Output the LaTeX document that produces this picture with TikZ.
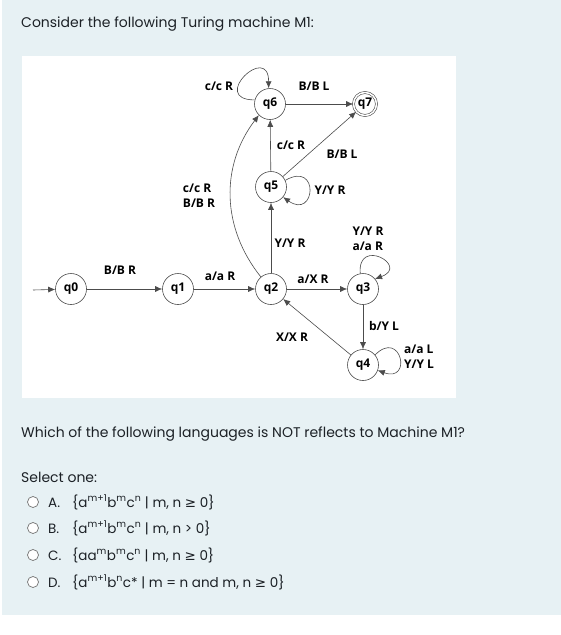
\documentclass[tikz,border=0pt]{standalone}
\usepackage{fontspec}
\setmainfont{Poppins}
\newfontfamily\diagfont{Open Sans}
\newfontfamily\symfont{DejaVu Sans}
\usepackage{xcolor}
\definecolor{panelBody}{rgb}{0.906,0.945,0.957}
\definecolor{panelText}{rgb}{0.11,0.13,0.15}
\definecolor{tmLine}{rgb}{0.3,0.3,0.3}
\definecolor{radioBorder}{rgb}{0.45,0.45,0.45}
\usetikzlibrary{arrows.meta}
\usetikzlibrary{positioning}
\tikzstyle{tmstate} = [circle, draw=tmLine, line width=0.6pt, minimum size=31pt, inner sep=0pt,
        font={\diagfont\bfseries\fontsize{12}{13}\selectfont}]
\tikzstyle{tmfinal} = [tmstate, minimum size=23pt, double, double distance=1.5pt]
\tikzstyle{tmlabel} = [font={\diagfont\bfseries\fontsize{12}{15}\selectfont}, align=left, inner sep=0pt]
\tikzstyle{tmedge} = [draw=tmLine, line width=0.6pt, -{Latex[length=7pt,width=6pt]}]
\tikzstyle{prose} = [anchor=base west, inner sep=0pt, text=panelText, font={\fontsize{14}{17}\selectfont}]
\tikzstyle{choice} = [prose, font={\fontsize{13.5}{16}\selectfont}]
\tikzstyle{radio} = [circle, draw=radioBorder, fill=white, line width=0.7pt, minimum size=11pt, inner sep=0pt]

\begin{document}
\begin{tikzpicture}[x=1pt, y=-1pt]
            \useasboundingbox (0,0) rectangle (561,635);
            \fill[panelBody] (2,0) rectangle (561,615);
            \fill[white] (22,56) rectangle (456,398);

            \node [prose] (intro) at (21,27) {Consider the following Turing machine M1:};

            \coordinate (start) at (33,290);
            \node [tmstate] (q0) at (71,289) {q0};
            \node [tmstate] (q1) at (178,289) {q1};
            \node [tmstate] (q2) at (271,289) {q2};
            \node [tmstate] (q3) at (363,289) {q3};
            \node [tmstate] (q4) at (363,365) {q4};
            \node [tmstate] (q5) at (271,187) {q5};
            \node [tmstate] (q6) at (270,104) {q6};
            \node [tmfinal] (q7) at (365,104) {q7};

            \draw [tmedge] (start) -- (q0);
            \draw [tmedge] (q0) -- (q1);
            \draw [tmedge] (q1) -- (q2);
            \draw [tmedge] (q2) -- (q3);
            \draw [tmedge] (q3) -- (q4);
            \draw [tmedge] (q4) -- (q2);
            \draw [tmedge] (q2) -- (q5);
            \draw [tmedge] (q5) -- (q6);
            \draw [tmedge] (q5) -- (q7);
            \draw [tmedge] (q6) -- (q7);
            \draw [tmedge] (q2.130) to[bend left=38] (q6.225);
            \draw [tmedge] (q6.165) to[out=180, in=90, looseness=6.5] (q6.95);
            \draw [tmedge] (q5.25) to[out=30, in=-35, looseness=6] (q5.-40);
            \draw [tmedge] (q3.100) to[out=95, in=20, looseness=6] (q3.40);
            \draw [tmedge] (q4.40) to[out=45, in=-20, looseness=6] (q4.-20);

            \node [tmlabel] (lblQ0Q1) at (120,270) {B/B R};
            \node [tmlabel] (lblQ1Q2) at (220,276) {a/a R};
            \node [tmlabel] (lblQ2Q3) at (313,279) {a/X R};
            \node [tmlabel] (lblQ2Q5) at (290,243) {Y/Y R};
            \node [tmlabel] (lblQ3) at (368,239) {Y/Y R\\a/a R};
            \node [tmlabel] (lblQ3Q4) at (384,326) {b/Y L};
            \node [tmlabel] (lblQ4Q2) at (292,337) {X/X R};
            \node [tmlabel] (lblQ4) at (419,357) {a/a L\\Y/Y L};
            \node [tmlabel] (lblQ2Q6) at (199,196) {c/c R\\B/B R};
            \node [tmlabel] (lblQ5) at (330,190) {Y/Y R};
            \node [tmlabel] (lblQ6) at (219,86) {c/c R};
            \node [tmlabel] (lblQ6Q7) at (314,86) {B/B L};
            \node [tmlabel] (lblQ5Q6) at (291,145) {c/c R};
            \node [tmlabel] (lblQ5Q7) at (342,154) {B/B L};

            \node [prose] (question) at (21,437) {Which of the following languages is NOT reflects to Machine M1?};
            \node [prose] (selectOne) at (21,482) {Select one:};

            \node [radio] (radioA) at (33,502) {};
            \node [choice] (letterA) at (48,507) {A.};
            \node [choice] (optA) at (72,507) {\{a\textsuperscript{m+1}b\textsuperscript{m}c\textsuperscript{n} | m, n {\symfont ≥} 0\}};
            \node [radio] (radioB) at (33,528) {};
            \node [choice] (letterB) at (48,533) {B.};
            \node [choice] (optB) at (72,533) {\{a\textsuperscript{m+1}b\textsuperscript{m}c\textsuperscript{n} | m, n > 0\}};
            \node [radio] (radioC) at (33,555) {};
            \node [choice] (letterC) at (48,560) {C.};
            \node [choice] (optC) at (72,560) {\{aa\textsuperscript{m}b\textsuperscript{m}c\textsuperscript{n} | m, n {\symfont ≥} 0\}};
            \node [radio] (radioD) at (33,582) {};
            \node [choice] (letterD) at (48,587) {D.};
            \node [choice] (optD) at (72,587) {\{a\textsuperscript{m+1}b\textsuperscript{n}c* | m = n and m, n {\symfont ≥} 0\}};
\end{tikzpicture}
\end{document}
